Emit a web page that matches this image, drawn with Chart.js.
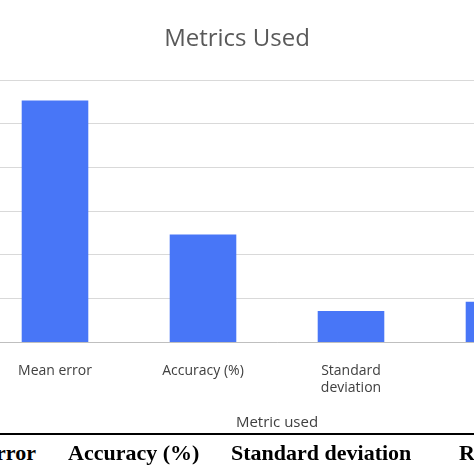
<!DOCTYPE html>
<html><head><meta charset="utf-8">
<script src="https://cdn.jsdelivr.net/npm/chart.js@4/dist/chart.umd.min.js"></script>
<style>
body{margin:0;width:474px;height:474px;overflow:hidden;background:#fff;position:relative;}
#wrap{position:absolute;left:-19px;top:0;width:592px;height:434px;}
#title{position:absolute;left:0;width:474px;top:20px;text-align:center;font:24px "Open Sans",sans-serif;color:#595959;}
#rule{position:absolute;left:0;width:474px;top:433px;height:2px;background:#000;}
#tbl{position:absolute;top:440px;left:0;width:474px;font:bold 22px "Liberation Serif",serif;color:#000;white-space:nowrap;}
#tbl span{position:absolute;top:0;}
</style></head><body>
<div id="wrap"><canvas id="c"></canvas></div>
<div id="title">Metrics Used</div>
<div id="rule"></div>
<div id="tbl"><span style="left:-4px">rror</span><span style="left:68px">Accuracy (%)</span><span style="left:231px">Standard deviation</span><span style="left:459px">R</span></div>
<script>
const categories=[["Mean error"],["Accuracy (%)"],["Standard","deviation"],["RMSE"]];
const values=[5.53,2.47,0.72,0.93];
const yMax=6, yStep=1;
new Chart(document.getElementById('c'),{
type:'bar',
data:{labels:categories,datasets:[{data:values,backgroundColor:'#4876f7',barPercentage:0.9,categoryPercentage:0.5}]},
options:{responsive:true,maintainAspectRatio:false,animation:false,
layout:{padding:{top:80,left:0,right:0,bottom:0}},
plugins:{legend:{display:false},tooltip:{enabled:false}},
scales:{
x:{grid:{display:false},border:{color:'#bfbfbf'},ticks:{color:'#404040',font:{family:'Open Sans',size:14},maxRotation:0,padding:12},
title:{display:true,text:'Metric used',color:'#404040',font:{family:'Open Sans',size:15},padding:{top:6,bottom:2}}},
y:{min:0,max:yMax,ticks:{display:false,stepSize:yStep},grid:{color:'#d9d9d9',drawTicks:false},border:{display:false}}
}}});
</script></body></html>
